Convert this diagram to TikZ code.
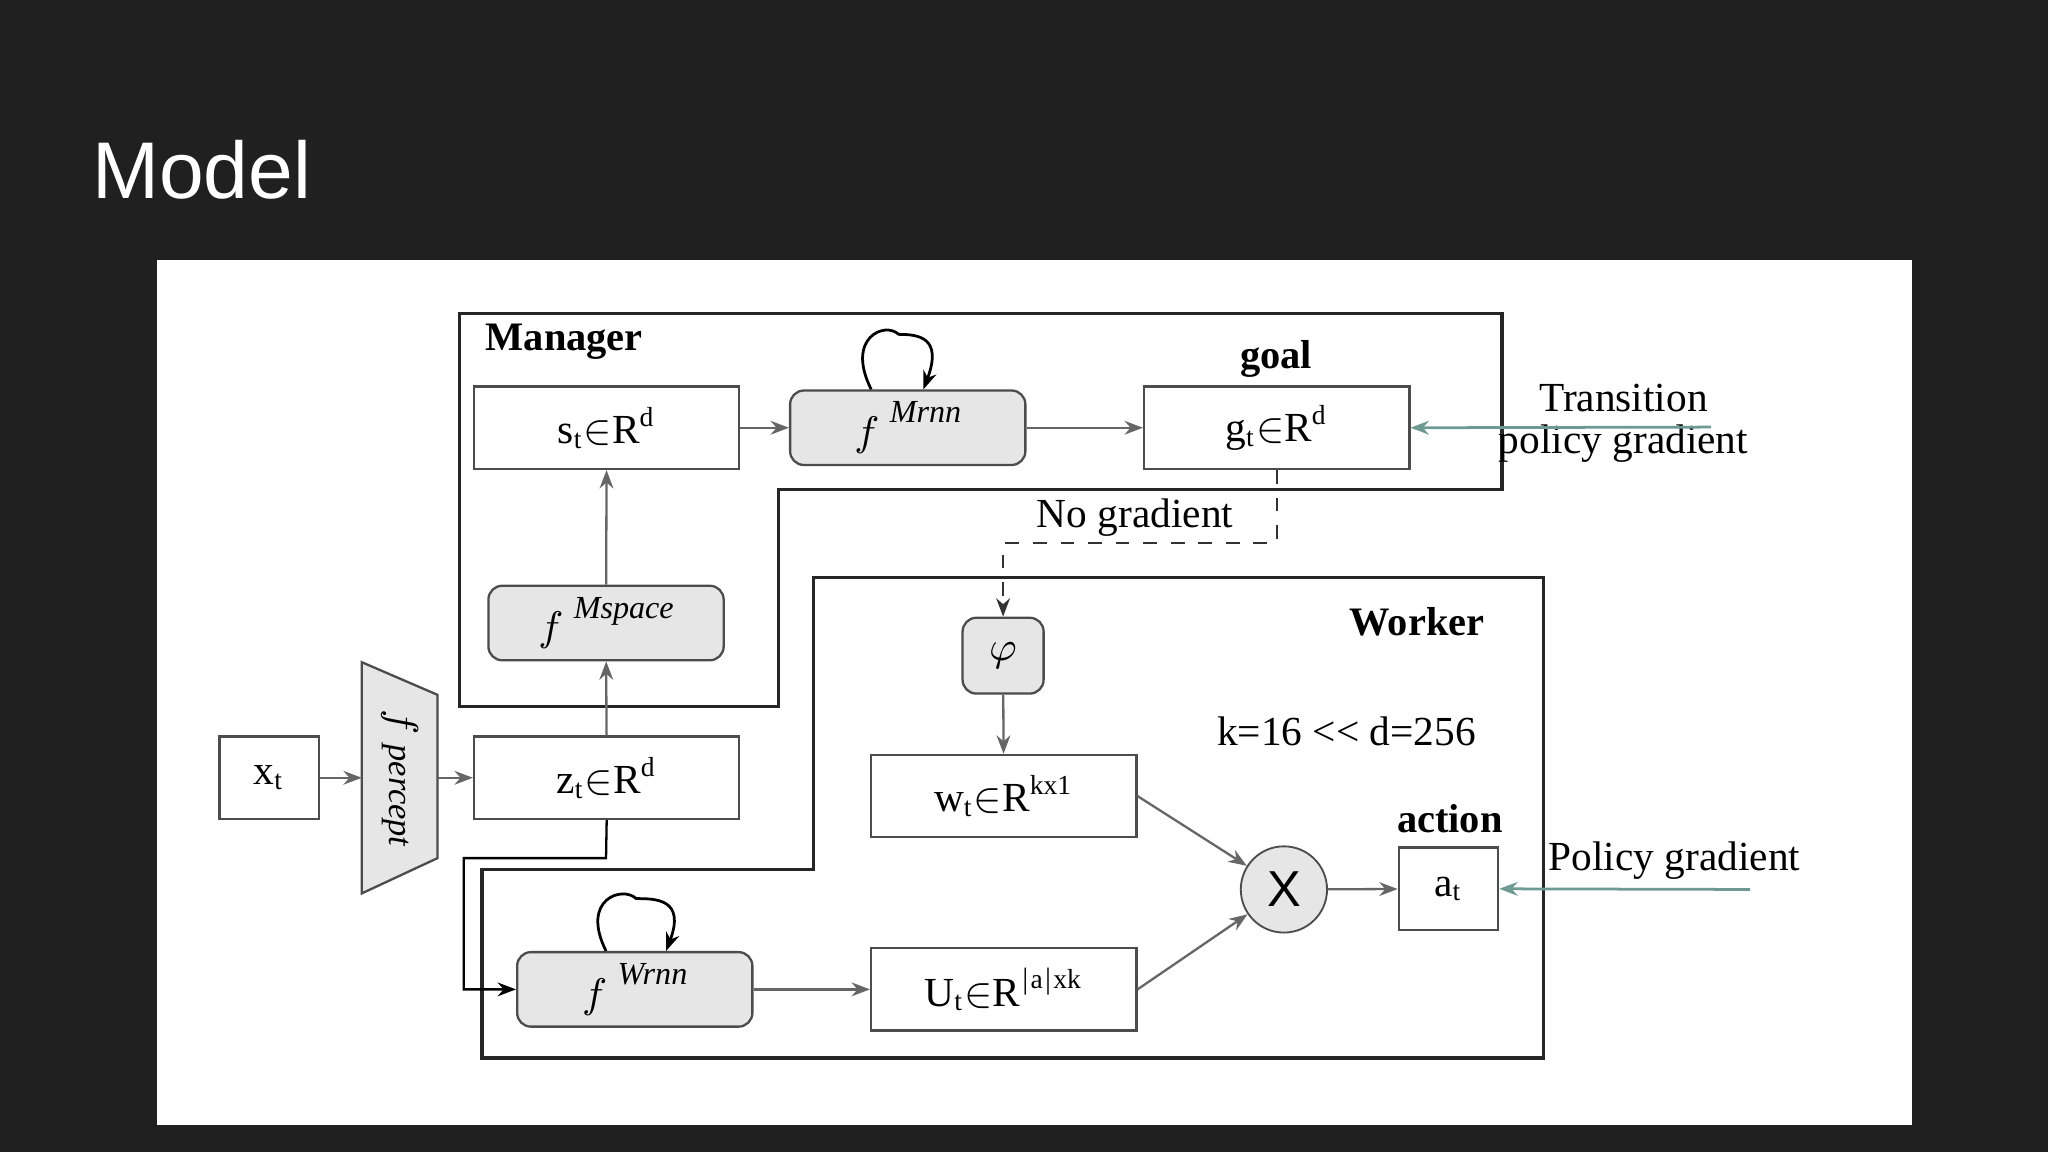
\documentclass[tikz,border=0pt]{standalone}
\usepackage{fontspec}
\setmainfont{Liberation Serif}
\newfontfamily\sansf{Liberation Sans}
\usetikzlibrary{arrows.meta,calc}
\definecolor{bgdark}{HTML}{202020}
\definecolor{boxgray}{HTML}{E6E6E6}
\definecolor{arrgray}{HTML}{666666}
\definecolor{gradcol}{HTML}{6F9A94}
\begin{document}
\begin{tikzpicture}[x=0.01cm,y=-0.01cm,
  every node/.style={font=\fontsize{9}{10}\selectfont},
  plain/.style={draw=black!70,line width=0.5pt,minimum width=2.03cm,minimum height=0.63cm,inner sep=0pt},
  proc/.style={draw=black!70,fill=boxgray,rounded corners=3pt,line width=0.5pt,minimum width=1.8cm,minimum height=0.57cm,inner sep=0pt},
  arr/.style={-{Stealth[length=4pt,width=3pt]},draw=arrgray,line width=0.5pt},
  grad/.style={-{Stealth[length=4pt,width=3pt]},draw=gradcol,line width=0.6pt},
  outline/.style={draw=black!85,line width=0.7pt},
  bold/.style={font=\fontsize{8.8}{10}\selectfont\bfseries}]
\fill[bgdark] (0,0) rectangle (1568,882);
\useasboundingbox (0,0) rectangle (1568,882);
\node[text=white,anchor=west,inner sep=0pt,font=\sansf\fontsize{17.5}{20}\selectfont] (title) at (70,130) {Model};
\fill[white] (120,199) rectangle (1464,861);
% outlines
\draw[outline] (352,240) -- (1150,240) -- (1150,375) -- (596,375) -- (596,541) -- (352,541) -- cycle;
\draw[outline] (623,442) -- (1182,442) -- (1182,810) -- (369,810) -- (369,666) -- (623,666) -- cycle;
\node[bold] (mgr) at (432,262) {Manager};
\node[bold] (goal) at (977,275) {goal};
\node[bold] (wrk) at (1085,476) {Worker};
\node[bold] (act) at (1110,627) {action};
% boxes
\node[plain] (s) at (464.5,327.5) {s$_{\mathrm t}$$\in$R$^{\mathrm d}$};
\node[proc] (fm) at (695,327.5) {$f$ \raisebox{1.2ex}{\fontsize{7}{8}\selectfont\itshape Mrnn}};
\node[plain] (g) at (977.5,327.5) {g$_{\mathrm t}$$\in$R$^{\mathrm d}$};
\node[proc] (fms) at (464,477) {$f$ \raisebox{1.2ex}{\fontsize{7}{8}\selectfont\itshape Mspace}};
\node[plain,minimum width=0.76cm] (x) at (206,595.5) {x$_{\mathrm t}$};
\node[plain] (z) at (464.5,595.5) {z$_{\mathrm t}$$\in$R$^{\mathrm d}$};
\draw[draw=black!70,fill=boxgray,line width=0.5pt] (277,507) -- (335,532) -- (335,657) -- (277,684) -- cycle;
\node[rotate=-90] (fp) at (306,595.5) {$f$ {\fontsize{7.5}{8}\selectfont\itshape percept}};
\coordinate (fpl) at (277,595.5);
\coordinate (fpr) at (335,595.5);
\node[proc,minimum width=0.62cm,minimum height=0.58cm] (phi) at (768,502) {$\varphi$};
\node[plain] (w) at (768.5,609.5) {w$_{\mathrm t}$$\in$R$^{\mathrm{kx1}}$};
\node[plain] (u) at (768.5,757.5) {U$_{\mathrm t}$$\in$R$^{\mathrm{|a|xk}}$};
\node[proc] (fw) at (486,757.5) {$f$ \raisebox{1.2ex}{\fontsize{7}{8}\selectfont\itshape Wrnn}};
\node[draw=black!70,fill=boxgray,circle,minimum size=0.66cm,inner sep=0pt,font=\sansf\fontsize{11}{12}\selectfont] (mul) at (983,681) {X};
\node[plain,minimum width=0.76cm] (a) at (1109,680.5) {a$_{\mathrm t}$};
\node (kd) at (1031,560) {k=16 {<}{<} d=256};
\node (nog) at (869,396) {No gradient};
\node[align=center,inner sep=0pt] (tpg) at (1243,324) {Transition\\[-1pt]policy gradient};
\node (pg) at (1282,659) {Policy gradient};
% connectors
\draw[arr] (x) -- (fpl);
\draw[arr] (fpr) -- (z);
\draw[arr] (z) -- (fms);
\draw[arr] (fms) -- (s);
\draw[arr] (s) -- (fm);
\draw[arr] (fm) -- (g);
\draw[arr,draw=black!80,dashed] (g.south) -- ++(0,56) -| (phi.north);
\draw[arr] (phi) -- (w);
\draw[arr] (w.east) -- (mul);
\draw[arr] (u.east) -- (mul);
\draw[arr] (mul) -- (a);
\draw[arr] (fw) -- (u);
\draw[arr,draw=black] (z.south) -- (464,657) -- (355,657) -- (355,757.5) -- (fw.west);
\draw[draw=black,line width=0.6pt,-{Stealth[length=4pt,width=3pt]}] ($(fm.north)+(-28,0)$) .. controls ++(-20,-40) and ++(-10,-10) .. (688,256) .. controls ++(15,0) and ++(15,-40) .. ($(fm.north)+(12,0)$);
\draw[draw=black,line width=0.6pt,-{Stealth[length=4pt,width=3pt]}] ($(fw.north)+(-22,0)$) .. controls ++(-20,-40) and ++(-10,-10) .. (487,688) .. controls ++(15,0) and ++(15,-40) .. ($(fw.north)+(24,0)$);
\coordinate (tpgend) at (1310,327);
\coordinate (pgend) at (1340,681);
\draw[grad] (tpgend) -- (g.east);
\draw[grad] (pgend) -- (a.east);
\end{tikzpicture}
\end{document}
